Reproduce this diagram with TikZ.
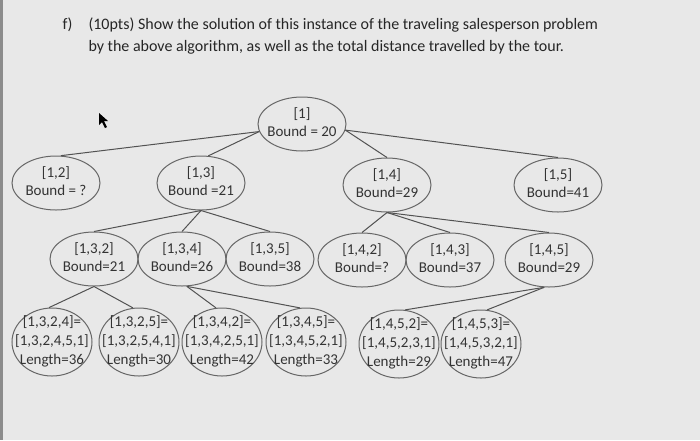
\documentclass[tikz,border=0pt]{standalone}
\usepackage{fontspec}
\setmainfont{Carlito}
\usetikzlibrary{shapes.geometric}
\newcommand{\tsplines}[1]{\makebox[0pt]{\begin{tabular}{@{}c@{}}#1\end{tabular}}}
\tikzset{
  tsp/.style={ellipse,draw=black!60,line width=1pt,inner sep=0pt,text height=7.5pt,text depth=0pt,text=black!80,font=\fontsize{15}{18}\selectfont},
  lvl/.style={tsp,minimum width=88pt,minimum height=54pt},
  leaf/.style={tsp,minimum width=80pt,minimum height=68pt,font=\fontsize{15}{19}\selectfont},
  branch/.style={draw=black!68,line width=1pt}
}
\begin{document}
\begin{tikzpicture}[x=1pt,y=-1pt]
\fill[black!9] (0,0) rectangle (700,440);
\fill[black!45] (0,0) rectangle (3,440);
\useasboundingbox (0,0) rectangle (700,440);
\node[anchor=west,text=black!85,font=\fontsize{16}{22}\selectfont] (fmark) at (59,25) {f)};
\node[anchor=west,align=left,text=black!85,font=\fontsize{16}{22}\selectfont] (task) at (85,36) {(10pts) Show the solution of this instance of the traveling salesperson problem\\by the above algorithm, as well as the total distance travelled by the tour.};
\fill[black] (99,113) -- (99,125) -- (102,122) -- (105,128) -- (107,127) -- (104,121) -- (108,121) -- cycle;
\node[lvl] (n1) at (302,124) {\tsplines{[1]\\Bound = 20}};
\node[lvl] (n12) at (56,183) {\tsplines{[1,2]\\Bound = ?}};
\node[lvl] (n13) at (201,183) {\tsplines{[1,3]\\Bound =21}};
\node[lvl] (n14) at (387,185) {\tsplines{[1,4]\\Bound=29}};
\node[lvl] (n15) at (558,185) {\tsplines{[1,5]\\Bound=41}};
\node[lvl] (n132) at (94,259) {\tsplines{[1,3,2]\\Bound=21}};
\node[lvl] (n134) at (182,259) {\tsplines{[1,3,4]\\Bound=26}};
\node[lvl] (n135) at (270,259) {\tsplines{[1,3,5]\\Bound=38}};
\node[lvl] (n142) at (362,260) {\tsplines{[1,4,2]\\Bound=?}};
\node[lvl] (n143) at (450,260) {\tsplines{[1,4,3]\\Bound=37}};
\node[lvl] (n145) at (549,260) {\tsplines{[1,4,5]\\Bound=29}};
\node[leaf] (n1324) at (52,342) {\tsplines{[1,3,2,4]=\\{[1,3,2,4,5,1]}\\Length=36}};
\node[leaf] (n1325) at (139,342) {\tsplines{[1,3,2,5]=\\{[1,3,2,5,4,1]}\\Length=30}};
\node[leaf] (n1342) at (222,342) {\tsplines{[1,3,4,2]=\\{[1,3,4,2,5,1]}\\Length=42}};
\node[leaf] (n1345) at (306,342) {\tsplines{[1,3,4,5]=\\{[1,3,4,5,2,1]}\\Length=33}};
\node[leaf] (n1452) at (399,344) {\tsplines{[1,4,5,2]=\\{[1,4,5,2,3,1]}\\Length=29}};
\node[leaf] (n1453) at (481,344) {\tsplines{[1,4,5,3]=\\{[1,4,5,3,2,1]}\\Length=47}};
\draw[branch] (n1.190) -- (n12.80);
\draw[branch] (n1.190) -- (n13.75);
\draw[branch] (n1.-8) -- (n14.north);
\draw[branch] (n1.-8) -- (n15.north);
\draw[branch] (n13.south) -- (n132.north);
\draw[branch] (n13.south) -- (n134.north);
\draw[branch] (n13.south) -- (n135.north);
\draw[branch] (n14.south) -- (n142.north);
\draw[branch] (n14.south) -- (n143.north);
\draw[branch] (n14.south) -- (n145.north);
\draw[branch] (n132.south) -- (n1324.95);
\draw[branch] (n132.south) -- (n1325.100);
\draw[branch] (n134.-80) -- (n1342.100);
\draw[branch] (n134.-80) -- (n1345.100);
\draw[branch] (n145.-100) -- (n1452.80);
\draw[branch] (n145.-100) -- (n1453.80);
\end{tikzpicture}
\end{document}
